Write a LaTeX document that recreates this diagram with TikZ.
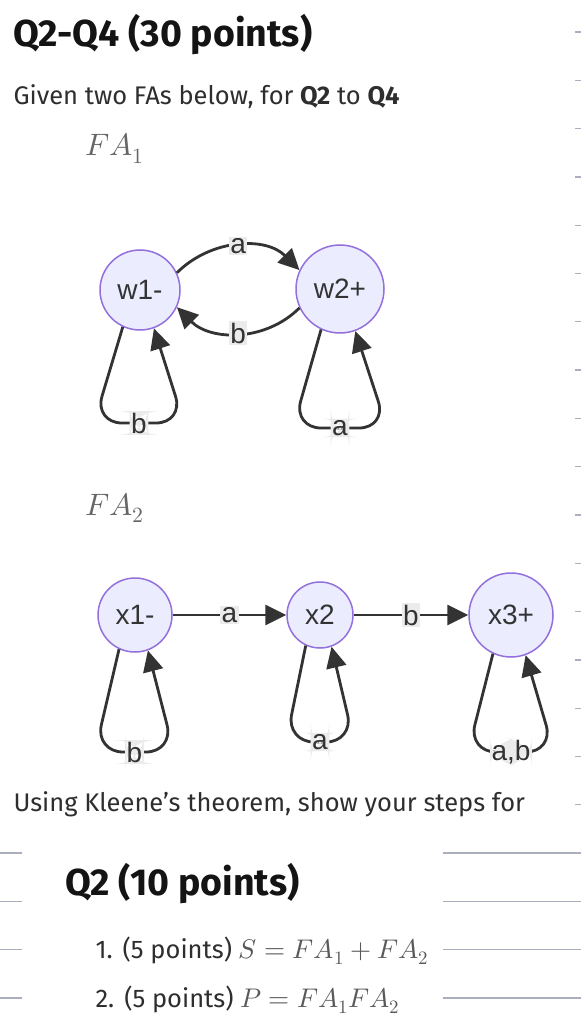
\documentclass[tikz,border=0pt]{standalone}
\usepackage{fontspec}
\usepackage{unicode-math}
\setmainfont{Fira Sans}
\setmathfont{Latin Modern Math}
\newfontfamily\mmdfont{Liberation Sans}
\usepackage{tikz}
\usetikzlibrary{positioning,arrows.meta}
\usepackage{xcolor}
\definecolor{mmdfill}{HTML}{ECECFF}
\definecolor{mmdline}{HTML}{9370DB}
\definecolor{mmdtext}{HTML}{333333}
\definecolor{rulegray}{HTML}{A9AFBC}
\tikzset{
  fanode/.style={circle,draw=mmdline,line width=1.5pt,fill=mmdfill,text=mmdtext,
    minimum size=#1,inner sep=0pt,font=\mmdfont\fontsize{28}{30}\selectfont},
  trans/.style={draw=mmdtext,line width=2.8pt,-{Triangle[length=21pt,width=20pt]}},
  faloop/.style={trans,rounded corners=28pt},
  elabel/.style={fill=black!8,text=mmdtext,inner sep=1.5pt,font=\mmdfont\fontsize{28}{30}\selectfont},
  rulemark/.style={draw=rulegray,line width=1.3pt},
  head/.style={anchor=base west,text=black!92,font=\bfseries\fontsize{37.5}{42}\selectfont},
  body/.style={anchor=base west,text=black!82,font=\fontsize{25.5}{30}\selectfont},
  falabel/.style={anchor=base west,text=black!60,font=\fontsize{31}{36}\selectfont}
}

\begin{document}
\begin{tikzpicture}[x=1pt,y=-1pt]
\fill[white] (0,0) rectangle (581,1032);
\useasboundingbox (0,0) rectangle (581,1032);

\node[head] (title) at (10,47) {Q2-Q4 (30 points)};
\node[body] (given) at (10,105) {Given two FAs below, for \textbf{Q2} to \textbf{Q4}};
\node[falabel] (fa1) at (82,156) {$FA_1$};

\node[fanode=80] (w1) at (140,290) {w1-};
\node[fanode=88] (w2) at (340,289) {w2+};
\draw[trans] (w1.25) to[out=45,in=135] node[elabel] {a} (w2.155);
\draw[trans] (w2.205) to[out=225,in=315] node[elabel] {b} (w1.335);
\draw[faloop] (w1.245) -- ([shift={(-46,133)}]w1.center) -- node[elabel] {b} ([shift={(44,133)}]w1.center) -- (w1.290);
\draw[faloop] (w2.245) -- ([shift={(-47,139)}]w2.center) -- node[elabel] {a} ([shift={(47,139)}]w2.center) -- (w2.290);

\node[falabel] (fa2) at (82,515) {$FA_2$};

\node[fanode=74] (x1) at (135,615) {x1-};
\node[fanode=66] (x2) at (320,615) {x2};
\node[fanode=84] (x3) at (511,615) {x3+};
\draw[trans] (x1) -- node[elabel] {a} (x2);
\draw[trans] (x2) -- node[elabel] {b} (x3);
\draw[faloop] (x1.245) -- ([shift={(-40,137)}]x1.center) -- node[elabel] {b} ([shift={(39,137)}]x1.center) -- (x1.290);
\draw[faloop] (x2.245) -- ([shift={(-34,127)}]x2.center) -- node[elabel] {a} ([shift={(34,127)}]x2.center) -- (x2.290);
\draw[faloop] (x3.245) -- ([shift={(-43,137)}]x3.center) -- node[elabel] {a,b} ([shift={(43,137)}]x3.center) -- (x3.290);

\node[body] (kleene) at (10,811) {Using Kleene’s theorem, show your steps for};
\node[head] (q2) at (62,895) {Q2 (10 points)};
\node[body] (item1) at (92,958) {1.\hspace{10pt}(5 points) {\color{black!65}\fontsize{27}{30}\selectfont$S=FA_1+FA_2$}};
\node[body] (item2) at (92,1007) {2.\hspace{10pt}(5 points) {\color{black!65}\fontsize{27}{30}\selectfont$P=FA_1FA_2$}};

\foreach \k in {0,...,16}
  \draw[rulemark] (575,{32+48.3*\k}) -- (581,{32+48.3*\k});
\foreach \k in {17,...,20} {
  \draw[rulemark] (0,{32+48.3*\k}) -- (22,{32+48.3*\k});
  \draw[rulemark] (443,{32+48.3*\k}) -- (581,{32+48.3*\k});
}
\end{tikzpicture}
\end{document}
